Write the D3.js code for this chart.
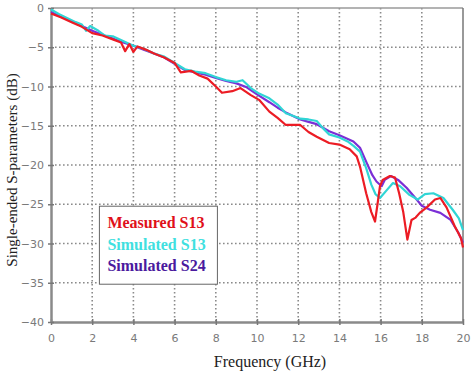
<!DOCTYPE html>
<html>
<head>
<meta charset="utf-8">
<script src="https://cdnjs.cloudflare.com/ajax/libs/d3/7.8.5/d3.min.js"></script>
<style>
  body { margin: 0; background: #fff; }
</style>
</head>
<body>
<div id="chart"></div>
<script>
// Data: [frequency GHz, dB]
const measuredS13 = [
  [0, -0.7], [0.5, -1.2], [1.0, -1.8], [1.5, -2.4], [2.0, -3.2], [2.5, -3.5], [3.0, -4.0],
  [3.4, -4.4], [3.6, -5.5], [3.8, -4.6], [4.0, -5.6], [4.2, -4.9], [4.6, -5.3], [5.0, -5.8],
  [5.5, -6.3], [6.0, -7.0], [6.3, -8.2], [6.8, -8.0], [7.2, -8.6], [7.6, -9.0], [8.0, -10.0],
  [8.3, -10.8], [8.8, -10.6], [9.2, -10.2], [9.7, -11.1], [10.1, -11.7], [10.6, -13.2],
  [11.0, -14.0], [11.4, -14.9], [12.1, -14.9], [12.5, -15.8], [12.9, -16.4], [13.5, -17.2],
  [14.0, -17.4], [14.5, -18.0], [14.84, -18.9], [15.0, -20.2], [15.3, -23.6], [15.55, -26.0],
  [15.73, -27.2], [15.85, -25.0], [15.97, -22.7], [16.1, -21.9], [16.45, -21.4], [16.7, -21.6],
  [16.9, -23.6], [17.1, -26.0], [17.3, -29.5], [17.5, -27.0], [17.7, -26.7], [17.9, -26.1],
  [18.24, -25.4], [18.64, -24.4], [18.9, -24.2], [19.2, -25.4], [19.6, -27.8], [19.9, -29.3],
  [20, -30.5]
];
const simulatedS13 = [
  [0, -0.2], [0.4, -0.8], [0.8, -1.3], [1.2, -1.8], [1.5, -2.1], [1.7, -2.9], [1.9, -2.3],
  [2.3, -2.9], [2.6, -3.5], [3.0, -3.6], [3.5, -4.2], [4.0, -4.8], [4.5, -5.2], [5.0, -5.8],
  [5.5, -6.2], [6.0, -7.0], [6.5, -7.8], [7.0, -8.1], [7.5, -8.3], [8.0, -8.8], [8.5, -9.2],
  [9.0, -9.4], [9.3, -9.2], [9.7, -10.2], [10.1, -10.9], [10.6, -11.5], [11.0, -12.3],
  [11.4, -13.4], [11.8, -13.8], [12.1, -14.1], [12.5, -14.2], [12.9, -14.4], [13.2, -15.3],
  [13.5, -16.1], [14.0, -16.5], [14.4, -17.0], [14.7, -17.6], [15.0, -18.3], [15.3, -20.4],
  [15.55, -22.5], [15.75, -23.7], [15.97, -24.2], [16.3, -23.2], [16.6, -22.3], [16.95, -22.7],
  [17.4, -23.8], [17.8, -24.4], [18.15, -23.7], [18.56, -23.6], [19.05, -24.2], [19.5, -25.7],
  [19.8, -26.8], [20, -28.3]
];
const simulatedS24 = [
  [0, -0.5], [0.5, -1.1], [1.0, -1.7], [1.5, -2.3], [2.0, -2.9], [2.5, -3.4], [3.0, -3.9],
  [3.5, -4.4], [4.0, -4.8], [4.5, -5.3], [5.0, -5.8], [5.5, -6.3], [6.0, -7.1], [6.5, -7.9],
  [7.0, -8.2], [7.5, -8.5], [8.0, -8.9], [8.5, -9.3], [9.0, -9.6], [9.5, -10.1], [10.0, -11.0],
  [10.6, -12.0], [11.0, -12.7], [11.4, -13.3], [12.1, -14.2], [12.5, -14.5], [12.9, -14.8],
  [13.5, -15.7], [14.0, -16.2], [14.68, -17.0], [15.0, -17.8], [15.32, -19.7], [15.6, -21.3],
  [15.8, -22.1], [16.05, -22.7], [16.2, -21.9], [16.5, -21.4], [16.85, -21.9], [17.26, -22.9],
  [17.75, -24.4], [18.0, -25.2], [18.4, -25.7], [18.9, -26.1], [19.4, -27.0], [19.77, -28.6],
  [20, -29.9]
];
const xTicks = [0, 2, 4, 6, 8, 10, 12, 14, 16, 18, 20];
const yTicks = [0, -5, -10, -15, -20, -25, -30, -35, -40];
const legendLabels = ["Measured S13", "Simulated S13", "Simulated S24"];

let svgWidth = 474;
let svgHeight = 372;
let margin = { top: 8, right: 11, bottom: 50, left: 51 };
let width = svgWidth - margin.left - margin.right;
let height = svgHeight - margin.top - margin.bottom;

let svg = d3.select("#chart")
  .append("svg")
  .attr("width", svgWidth)
  .attr("height", svgHeight);

let chartGroup = svg.append("g")
  .attr("transform", `translate(${margin.left}, ${margin.top})`);

const x = d3.scaleLinear().domain([0, 20]).range([0, width]);
const y = d3.scaleLinear().domain([-40, 0]).range([height, 0]);

// dotted grid
chartGroup.append("g")
  .selectAll("line")
  .data(xTicks.filter(d => d > 0 && d < 20))
  .enter().append("line")
  .attr("x1", d => x(d)).attr("x2", d => x(d))
  .attr("y1", 0).attr("y2", height)
  .attr("stroke", "#8a8a8a").attr("stroke-width", 1.6)
  .attr("stroke-dasharray", "1.6,2.4");

chartGroup.append("g")
  .selectAll("line")
  .data(yTicks.filter(d => d < 0 && d > -40))
  .enter().append("line")
  .attr("x1", 0).attr("x2", width)
  .attr("y1", d => y(d)).attr("y2", d => y(d))
  .attr("stroke", "#8a8a8a").attr("stroke-width", 1.6)
  .attr("stroke-dasharray", "1.6,2.4");

// frame: top and right
chartGroup.append("line")
  .attr("x1", 0).attr("x2", width).attr("y1", 0).attr("y2", 0)
  .attr("stroke", "#9a9a9a").attr("stroke-width", 1.5);
chartGroup.append("line")
  .attr("x1", width).attr("x2", width).attr("y1", 0).attr("y2", height)
  .attr("stroke", "#777").attr("stroke-width", 1.5);

// axes
const bottomAxis = d3.axisBottom(x).tickValues(xTicks).tickSizeInner(3).tickSizeOuter(0).tickPadding(9);
const leftAxis = d3.axisLeft(y).tickValues(yTicks).tickSizeInner(3).tickSizeOuter(0).tickPadding(4);

let xAxisG = chartGroup.append("g")
  .attr("transform", `translate(0, ${height})`)
  .call(bottomAxis);
let yAxisG = chartGroup.append("g").call(leftAxis);

[xAxisG, yAxisG].forEach(g => {
  g.select(".domain").attr("stroke", "#8a8a8a").attr("stroke-width", 2.5);
  g.selectAll(".tick line").attr("stroke", "#777").attr("stroke-width", 1.5);
  g.selectAll(".tick text")
    .attr("fill", "#7a7a7a")
    .attr("font-family", "DejaVu Sans, sans-serif")
    .attr("font-size", "11px");
});
xAxisG.selectAll(".tick line").attr("y1", -3);
yAxisG.selectAll(".tick line").attr("x2", 3).attr("x1", -3);

// series lines
const line = d3.line()
  .x(d => x(d[0]))
  .y(d => y(d[1]));

const series = [
  { data: simulatedS24, color: "#7b2fd6" },
  { data: simulatedS13, color: "#30d5d5" },
  { data: measuredS13, color: "#ec1c24" }
];

series.forEach(s => {
  chartGroup.append("path")
    .datum(s.data)
    .attr("d", line)
    .attr("fill", "none")
    .attr("stroke", s.color)
    .attr("stroke-width", 2.2)
    .attr("stroke-linejoin", "round");
});

// legend
let legend = chartGroup.append("g")
  .attr("transform", `translate(${x(2.35)}, ${y(-25.25)})`);

legend.append("rect")
  .attr("width", 118)
  .attr("height", 78)
  .attr("fill", "#fff")
  .attr("stroke", "#666")
  .attr("stroke-width", 1);

const legendColors = ["#e0101a", "#3fe0e0", "#4a1a9e"];
legend.selectAll("text")
  .data(legendLabels)
  .enter().append("text")
  .attr("x", 8)
  .attr("y", (d, i) => 22 + i * 21.5)
  .attr("fill", (d, i) => legendColors[i])
  .attr("font-family", "Liberation Serif, Times New Roman, serif")
  .attr("font-weight", "bold")
  .attr("font-size", "16px")
  .text(d => d);

// axis labels
svg.append("text")
  .attr("transform", `translate(17, ${margin.top + height / 2 + 5}) rotate(-90)`)
  .attr("text-anchor", "middle")
  .attr("font-family", "Liberation Serif, Times New Roman, serif")
  .attr("font-size", "15px")
  .attr("fill", "#222")
  .text("Single-ended S-parameters (dB)");

svg.append("text")
  .attr("x", 270)
  .attr("y", 367)
  .attr("text-anchor", "middle")
  .attr("font-family", "Liberation Serif, Times New Roman, serif")
  .attr("font-size", "16px")
  .attr("fill", "#222")
  .text("Frequency (GHz)");
</script>
</body>
</html>
